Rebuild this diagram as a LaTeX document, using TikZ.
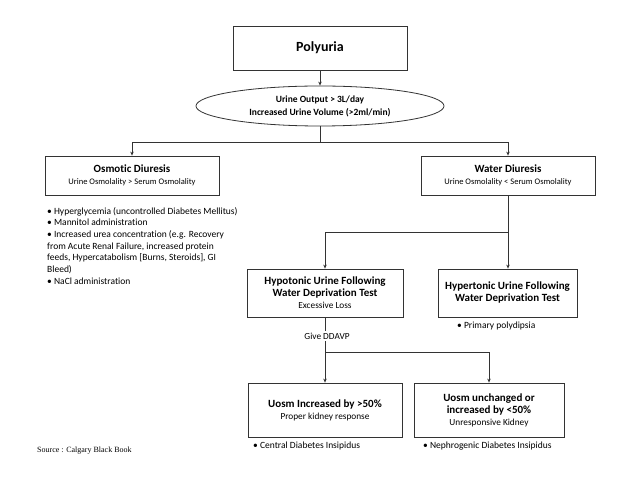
\documentclass[tikz,border=0pt]{standalone}
\usepackage{fontspec}
\setmainfont{Carlito}[Ligatures=NoCommon]
\newfontfamily\srcfont{Liberation Serif}
\usetikzlibrary{shapes.geometric,arrows.meta}
\newcommand{\myhd}{\fontsize{11}{15}\selectfont\bfseries}
\newcommand{\mysub}{\fontsize{8.5}{11}\selectfont\mdseries}
\newcommand{\mysubb}{\fontsize{9.3}{12}\selectfont\mdseries}
\begin{document}
\begin{tikzpicture}[x=1pt,y=-1pt,
  box/.style={draw=black!80,line width=0.8pt,rectangle,align=center,inner sep=0pt},
  conn/.style={draw=black!80,line width=0.9pt},
  arr/.style={conn,-{Stealth[length=4pt,width=3.5pt]}},
  sub/.style={font=\fontsize{9.3}{12}\selectfont},
  bul/.style={font=\fontsize{9.5}{11.7}\selectfont,align=left,inner sep=0pt}]
\useasboundingbox[fill=white] (0,0) rectangle (638,478);
\node[box,minimum width=174pt,minimum height=44pt,font=\fontsize{14}{16}\selectfont\bfseries] (poly) at (320,48) {Polyuria};
\node[box,ellipse,minimum width=248pt,minimum height=40pt,inner sep=0pt,font=\fontsize{9.5}{13}\selectfont\bfseries] (ell) at (320,106) {Urine Output > 3L/day\\Increased Urine Volume (>2ml/min)};
\node[box,minimum width=174pt,minimum height=39pt] (osm) at (132,175.5) {\myhd Osmotic Diuresis\\\mysub Urine Osmolality > Serum Osmolality};
\node[box,minimum width=174pt,minimum height=39pt] (wat) at (508,175.5) {\myhd Water Diuresis\\\mysub Urine Osmolality < Serum Osmolality};
\node[box,minimum width=156pt,minimum height=48pt] (hypo) at (325,293) {\myhd Hypotonic Urine Following\\\myhd Water Deprivation Test\\\mysubb Excessive Loss};
\node[box,minimum width=139pt,minimum height=48pt] (hyper) at (507.5,293) {\myhd Hypertonic Urine Following\\\myhd Water Deprivation Test};
\node[box,minimum width=154pt,minimum height=54pt] (u1) at (325,410) {\myhd Uosm Increased by >50\%\\\mysubb Proper kidney response};
\node[box,minimum width=150pt,minimum height=54pt] (u2) at (489,410) {\myhd Uosm unchanged or\\\myhd increased by <50\%\\\mysubb Unresponsive Kidney};
\node[bul,anchor=north west] (osmlist) at (47,207) {• Hyperglycemia (uncontrolled Diabetes Mellitus)\\• Mannitol administration\\• Increased urea concentration (e.g. Recovery\\from Acute Renal Failure, increased protein\\feeds, Hypercatabolism [Burns, Steroids], GI\\Bleed)\\• NaCl administration};
\node[bul,anchor=west] (pp) at (457,326) {• Primary polydipsia};
\node[bul,anchor=west] (cdi) at (253,446) {• Central Diabetes Insipidus};
\node[bul,anchor=west] (ndi) at (423,446) {• Nephrogenic Diabetes Insipidus};
\node[sub,inner sep=2pt] (dd) at (327,336) {Give DDAVP};
\node[anchor=west,inner sep=0pt,font=\srcfont\fontsize{8}{9}\selectfont] (src) at (37,451) {Source : Calgary Black Book};
\coordinate (j1) at (320,142);
\coordinate (j2) at (508,232);
\coordinate (j3) at (325,352);
\draw[arr] (poly.south) -- (ell.north);
\draw[conn] (ell.south) -- (j1);
\draw[arr] (j1) -| (osm.north);
\draw[arr] (j1) -| (wat.north);
\draw[conn] (wat.south) -- (j2);
\draw[arr] (j2) -| (hypo.north);
\draw[arr] (j2) -- (j2 |- hyper.north);
\draw[conn] (hypo.south) -- (hypo.south |- dd.north);
\draw[conn] (j3 |- dd.south) -- (j3);
\draw[arr] (j3) -| (u1.north);
\draw[arr] (j3) -| (u2.north);
\end{tikzpicture}
\end{document}
